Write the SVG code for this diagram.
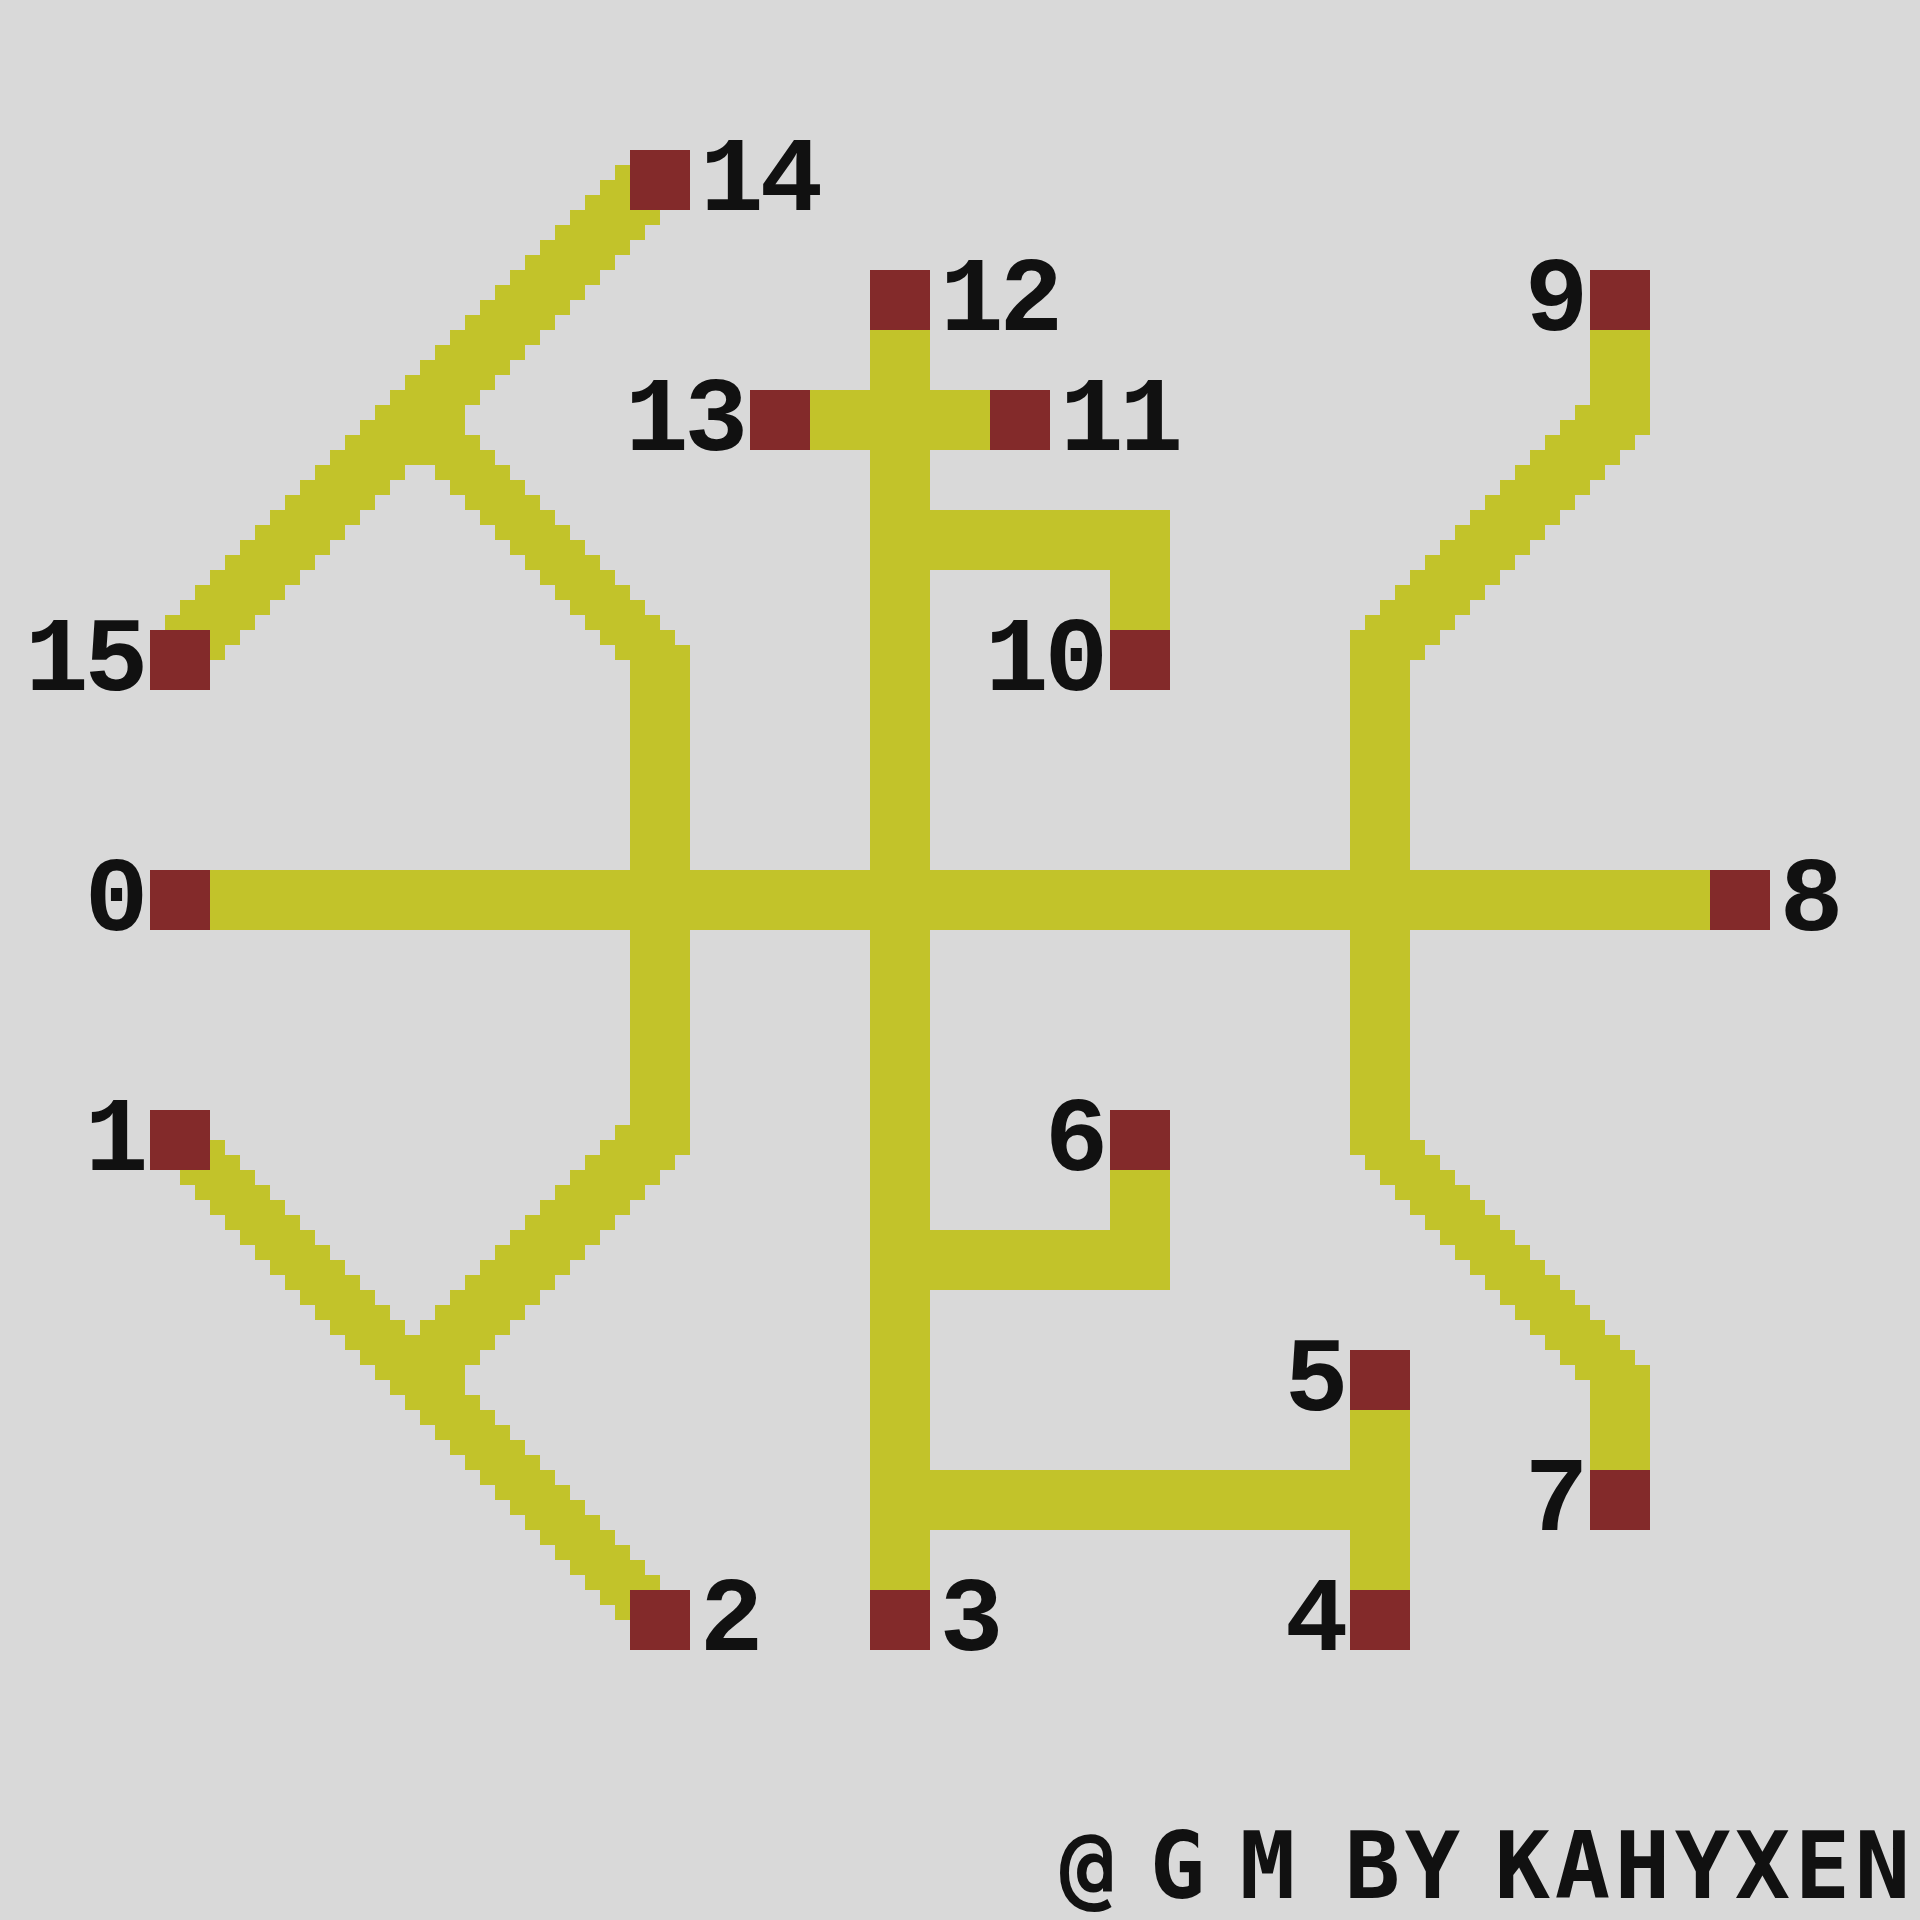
<svg xmlns="http://www.w3.org/2000/svg" width="1920" height="1920" viewBox="0 0 1920 1920">
<style>
.bg{fill:#d9d9d9}
.ln{fill:#c2c32a}
.nd{fill:#832a2a}
.lb{font-family:"Liberation Mono","DejaVu Sans Mono",monospace;font-weight:bold;font-size:106px;letter-spacing:-4px;fill:#111111;text-anchor:middle}
.cr{font-family:"DejaVu Sans Mono","Liberation Mono",monospace;font-weight:bold;font-size:92px;fill:#111111;text-anchor:middle}
</style>
<defs>
<rect id="r6" width="6" height="1"/>
<g id="u2"><use href="#r6"/><use href="#r6" x="-1" y="1"/></g>
<g id="u4"><use href="#u2"/><use href="#u2" x="-2" y="2"/></g>
<g id="u8"><use href="#u4"/><use href="#u4" x="-4" y="4"/></g>
<g id="u16"><use href="#u8"/><use href="#u8" x="-8" y="8"/></g>
<rect id="r5" width="5" height="1"/>
<g id="d2"><use href="#r5"/><use href="#r5" x="1" y="1"/></g>
<g id="d4"><use href="#d2"/><use href="#d2" x="2" y="2"/></g>
<g id="d8"><use href="#d4"/><use href="#d4" x="4" y="4"/></g>
<g id="d16"><use href="#d8"/><use href="#d8" x="8" y="8"/></g>
</defs>
<rect class="bg" x="0" y="0" width="1920" height="1920"/>
<g id="connectors" transform="scale(15)" shape-rendering="crispEdges">
<g class="ln">
<rect x="12" y="58" width="104" height="4"/>
<rect x="58" y="20" width="4" height="88"/>
<rect x="52" y="26" width="16" height="4"/>
<rect x="60" y="34" width="18" height="4"/>
<rect x="74" y="34" width="4" height="10"/>
<rect x="74" y="76" width="4" height="10"/>
<rect x="60" y="82" width="18" height="4"/>
<rect x="90" y="92" width="4" height="16"/>
<rect x="60" y="98" width="32" height="4"/>
<rect x="42" y="43" width="4" height="34"/>
<rect x="90" y="42" width="4" height="35"/>
<rect x="106" y="20" width="4" height="9"/>
<rect x="106" y="91" width="4" height="9"/>
<g id="d15-14" transform="translate(40 12)"><use href="#u16"/><use href="#u8" x="-16" y="16"/><use href="#u4" x="-24" y="24"/><use href="#u2" x="-28" y="28"/><use href="#r6" x="-30" y="30"/></g>
<rect x="41" y="11" width="5" height="1"/>
<rect x="10" y="43" width="5" height="1"/>
<g id="d-left-top" transform="translate(25 27)"><use href="#d16"/><use href="#r5" x="16" y="16"/></g>
<g id="d1-2" transform="translate(10 76)"><use href="#d16"/><use href="#d16" x="16" y="16"/></g>
<g id="d-left-bottom" transform="translate(40 76)"><use href="#u16"/></g>
<rect x="41" y="75" width="5" height="1"/>
<g id="d-right-top" transform="translate(104 28)"><use href="#u8"/><use href="#u4" x="-8" y="8"/><use href="#u2" x="-12" y="12"/><use href="#r6" x="-14" y="14"/></g>
<rect x="105" y="27" width="5" height="1"/>
<rect x="90" y="43" width="5" height="1"/>
<g id="d-right-bottom" transform="translate(90 76)"><use href="#d16"/></g>
</g>
</g>
<g id="nodes">
<g id="node-0"><rect class="nd" x="150" y="870" width="60" height="60"/><text class="lb" x="114.5" y="930">0</text></g>
<g id="node-1"><rect class="nd" x="150" y="1110" width="60" height="60"/><text class="lb" x="114.5" y="1170">1</text></g>
<g id="node-2"><rect class="nd" x="630" y="1590" width="60" height="60"/><text class="lb" x="729.5" y="1650">2</text></g>
<g id="node-3"><rect class="nd" x="870" y="1590" width="60" height="60"/><text class="lb" x="969.5" y="1650">3</text></g>
<g id="node-4"><rect class="nd" x="1350" y="1590" width="60" height="60"/><text class="lb" x="1314.5" y="1650">4</text></g>
<g id="node-5"><rect class="nd" x="1350" y="1350" width="60" height="60"/><text class="lb" x="1314.5" y="1410">5</text></g>
<g id="node-6"><rect class="nd" x="1110" y="1110" width="60" height="60"/><text class="lb" x="1074.5" y="1170">6</text></g>
<g id="node-7"><rect class="nd" x="1590" y="1470" width="60" height="60"/><text class="lb" x="1554.5" y="1530">7</text></g>
<g id="node-8"><rect class="nd" x="1710" y="870" width="60" height="60"/><text class="lb" x="1809.5" y="930">8</text></g>
<g id="node-9"><rect class="nd" x="1590" y="270" width="60" height="60"/><text class="lb" x="1554.5" y="330">9</text></g>
<g id="node-10"><rect class="nd" x="1110" y="630" width="60" height="60"/><text class="lb" x="1044.5" y="690">10</text></g>
<g id="node-11"><rect class="nd" x="990" y="390" width="60" height="60"/><text class="lb" x="1119.5" y="450">11</text></g>
<g id="node-12"><rect class="nd" x="870" y="270" width="60" height="60"/><text class="lb" x="999.5" y="330">12</text></g>
<g id="node-13"><rect class="nd" x="750" y="390" width="60" height="60"/><text class="lb" x="684.5" y="450">13</text></g>
<g id="node-14"><rect class="nd" x="630" y="150" width="60" height="60"/><text class="lb" x="759.5" y="210">14</text></g>
<g id="node-15"><rect class="nd" x="150" y="630" width="60" height="60"/><text class="lb" x="84.5" y="690">15</text></g>
</g>
<text id="credit" class="cr" x="1087.5 1177.5 1267.5 1315 1372.5 1432.5 1470 1522.5 1582.5 1642.5 1702.5 1762.5 1822.5 1882.5" y="1898">@GM BY KAHYXEN</text>
</svg>
